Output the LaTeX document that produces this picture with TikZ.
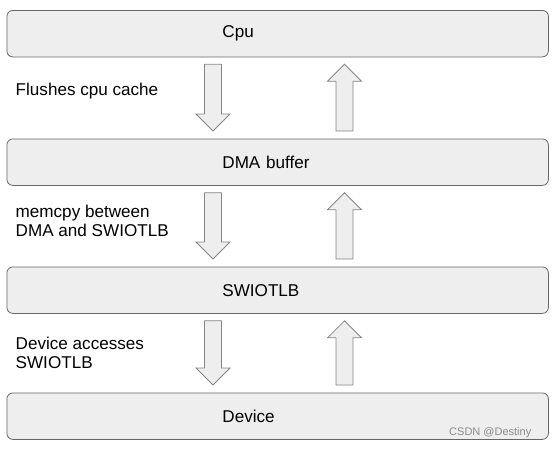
\documentclass[tikz,border=0pt]{standalone}
\usepackage{fontspec}
\setmainfont{Liberation Sans}
\usetikzlibrary{calc,positioning}

\definecolor{boxfill}{HTML}{EEEEEE}
\definecolor{boxline}{HTML}{666666}
\definecolor{arrowline}{HTML}{858585}

\begin{document}
\begin{tikzpicture}[x=1pt, y=1pt,
        layer/.style={draw=boxline, fill=boxfill, line width=0.8pt, rounded corners=6pt,
                minimum width=541.5pt, minimum height=46.5pt, text width=110.5pt,
                inner xsep=215.5pt, inner ysep=0pt, align=left, anchor=north west,
                font=\fontsize{17.1}{18.6}\selectfont},
        note/.style={inner sep=0pt, anchor=base west, align=left,
                font=\fontsize{17.1}{18.6}\selectfont},
        blockarrow/.style={draw=arrowline, fill=boxfill, line width=0.8pt}]
        \useasboundingbox (0, 0) rectangle (556, -448);

        \node[layer] (cpu) at (6.5, -10) {Cpu};
        \node[layer] (dma) at (6.5, -138.5) {DMA buffer};
        \node[layer] (swio) at (6.5, -266.5) {SWIOTLB};
        \node[layer] (dev) at (6.5, -392.5) {Device};

        % base of a two-line note is its last line
        \node[note] (flush) at (15.5, -95.7) {Flushes cpu cache};
        \node[note] (copy) at (15.5, -236.2) {memcpy between\\DMA and SWIOTLB};
        \node[note] (access) at (15.5, -368.3) {Device accesses\\SWIOTLB};

        % down and up block arrows in each gap
        \foreach \a/\b in {cpu/dma, dma/swio, swio/dev} {
                \draw[blockarrow] let \p1 = ($(\a.south west)+(206.5, -7)$),
                        \p2 = ($(\b.north west)+(206.5, 7.5)$) in
                        (\x1-8.5pt, \y1) -- (\x1+8.5pt, \y1) -- (\x1+8.5pt, \y2+17pt)
                        -- (\x1+17pt, \y2+17pt) -- (\x1, \y2) -- (\x1-17pt, \y2+17pt)
                        -- (\x1-8.5pt, \y2+17pt) -- cycle;
                \draw[blockarrow] let \p1 = ($(\a.south west)+(338, -7)$),
                        \p2 = ($(\b.north west)+(338, 7.5)$) in
                        (\x1, \y1) -- (\x1+17pt, \y1-17pt) -- (\x1+8.5pt, \y1-17pt)
                        -- (\x1+8.5pt, \y2) -- (\x1-8.5pt, \y2) -- (\x1-8.5pt, \y1-17pt)
                        -- (\x1-17pt, \y1-17pt) -- cycle;
        }

        \node[inner sep=0pt, anchor=base east, text=black!45, font=\fontsize{11}{13}\selectfont]
                (mark) at (531.5, -435.7) {CSDN @Destiny};
\end{tikzpicture}
\end{document}
